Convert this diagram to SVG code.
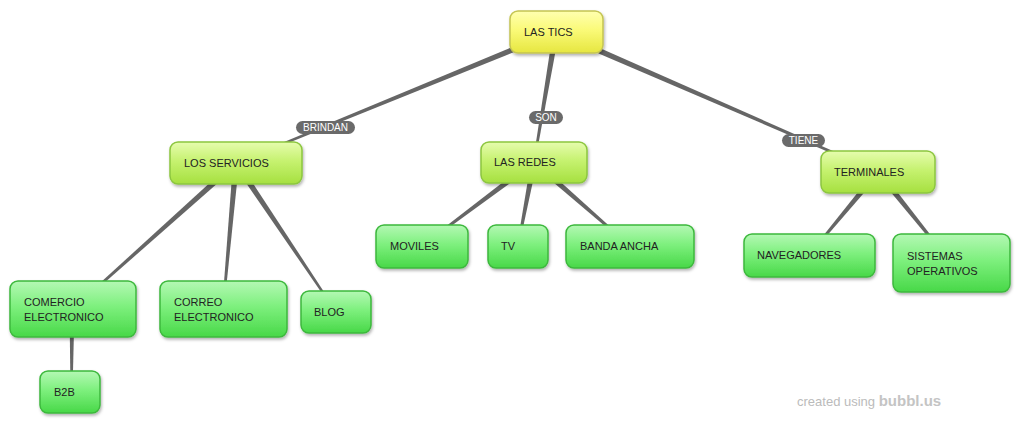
<svg xmlns="http://www.w3.org/2000/svg" width="1020" height="424" viewBox="0 0 1020 424">
<defs>
<linearGradient id="gy" x1="0" y1="0" x2="0" y2="1"><stop offset="0" stop-color="#ffffb0"/><stop offset="0.45" stop-color="#fafa78"/><stop offset="1" stop-color="#e6e640"/></linearGradient>
<linearGradient id="gl" x1="0" y1="0" x2="0" y2="1"><stop offset="0" stop-color="#e6fcae"/><stop offset="0.45" stop-color="#c6f270"/><stop offset="1" stop-color="#a6e040"/></linearGradient>
<linearGradient id="gg" x1="0" y1="0" x2="0" y2="1"><stop offset="0" stop-color="#b4f8b4"/><stop offset="0.45" stop-color="#7ef07e"/><stop offset="1" stop-color="#48d848"/></linearGradient>
<filter id="sh" x="-20%" y="-20%" width="140%" height="150%"><feDropShadow dx="1" dy="2" stdDeviation="1.5" flood-color="#000" flood-opacity="0.3"/></filter>
<style>
.y{fill:url(#gy);stroke:#c4c452;stroke-width:1.5;filter:url(#sh)}
.l{fill:url(#gl);stroke:#8cc63f;stroke-width:1.5;filter:url(#sh)}
.g{fill:url(#gg);stroke:#3cb83c;stroke-width:1.5;filter:url(#sh)}
text{font-family:"Liberation Sans",Arial,sans-serif;font-size:11px;fill:#222}
.c path{fill:#666}
.lb rect{fill:#6a6a6a}
.lb text{fill:#fff;font-size:10px;text-anchor:middle}
</style>
</defs>
<rect width="1020" height="424" fill="#fff"/>
<g class="c" id="connectors">
<path d="M554.9,29.2 L235.6,162.1 L236.4,163.9 L557.1,34.8Z"/>
<path d="M553,31.5 L533,161.8 L535,162.2 L559,32.5Z"/>
<path d="M554.8,34.8 L877.6,172.9 L878.4,171.1 L557.2,29.3Z"/>
<path d="M234,160.8 L72.3,308.3 L73.7,309.8 L238,165.2Z"/>
<path d="M233,162.7 L222,308.9 L224,309.1 L239,163.3Z"/>
<path d="M233.5,164.7 L335.2,312.6 L336.8,311.4 L238.5,161.3Z"/>
<path d="M532.2,159.6 L421.4,245.2 L422.6,246.8 L535.8,164.4Z"/>
<path d="M531,161.4 L517,245.8 L519,246.2 L537,162.6Z"/>
<path d="M532,164.3 L629.3,246.8 L630.7,245.3 L536,159.7Z"/>
<path d="M875.7,170.1 L808.2,254.4 L809.8,255.6 L880.3,173.9Z"/>
<path d="M875.7,173.9 L950.2,263.6 L951.8,262.4 L880.3,170.1Z"/>
<path d="M69.5,309 L70.5,392 L72.5,392 L74.5,309Z"/>
<g class="lb"><rect x="296" y="121" width="59" height="13" rx="6.5"/><text x="325.5" y="131">BRINDAN</text></g>
<g class="lb"><rect x="529" y="111" width="34" height="13" rx="6.5"/><text x="546" y="121">SON</text></g>
<g class="lb"><rect x="782" y="134" width="43" height="13" rx="6.5"/><text x="803.5" y="144">TIENE</text></g>
</g>
<g id="n-tics"><rect class="y" x="510" y="11" width="93" height="42" rx="8"/><text x="524" y="36">LAS TICS</text></g>
<g id="n-servicios"><rect class="l" x="170" y="142" width="132" height="42" rx="8"/><text x="184" y="167">LOS SERVICIOS</text></g>
<g id="n-redes"><rect class="l" x="481" y="142" width="106" height="41" rx="8"/><text x="494" y="166">LAS REDES</text></g>
<g id="n-terminales"><rect class="l" x="821" y="151" width="114" height="42" rx="8"/><text x="834" y="176">TERMINALES</text></g>
<g id="n-moviles"><rect class="g" x="376" y="225" width="92" height="43" rx="8"/><text x="390" y="250">MOVILES</text></g>
<g id="n-tv"><rect class="g" x="488" y="225" width="60" height="43" rx="8"/><text x="501" y="250">TV</text></g>
<g id="n-banda"><rect class="g" x="566" y="225" width="128" height="43" rx="8"/><text x="580" y="250">BANDA ANCHA</text></g>
<g id="n-navegadores"><rect class="g" x="744" y="234" width="131" height="43" rx="8"/><text x="757" y="259">NAVEGADORES</text></g>
<g id="n-sistemas"><rect class="g" x="893" y="234" width="117" height="58" rx="8"/><text x="907" y="260">SISTEMAS</text><text x="907" y="275">OPERATIVOS</text></g>
<g id="n-comercio"><rect class="g" x="10" y="281" width="126" height="56" rx="8"/><text x="24" y="306">COMERCIO</text><text x="24" y="321">ELECTRONICO</text></g>
<g id="n-correo"><rect class="g" x="160" y="281" width="127" height="56" rx="8"/><text x="174" y="306">CORREO</text><text x="174" y="321">ELECTRONICO</text></g>
<g id="n-blog"><rect class="g" x="301" y="291" width="70" height="42" rx="8"/><text x="314" y="316">BLOG</text></g>
<g id="n-b2b"><rect class="g" x="40" y="371" width="60" height="42" rx="8"/><text x="54" y="396">B2B</text></g>
<text x="797" y="406" style="fill:#bbb;font-size:13px">created using <tspan style="font-weight:bold;font-size:15px;fill:#c4c4c4">bubbl.us</tspan></text>
</svg>
